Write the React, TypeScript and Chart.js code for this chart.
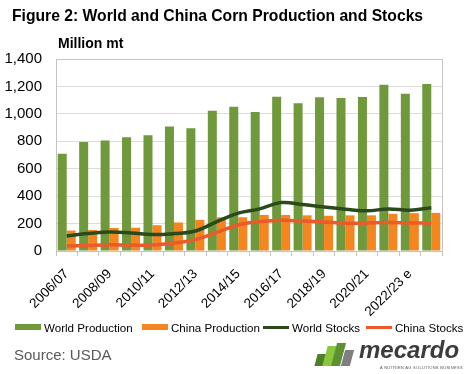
import React, { useEffect, useRef } from "react";
import { Chart, registerables } from "chart.js";

Chart.register(...registerables);

const categories = [
  "2006/07", "2007/08", "2008/09", "2009/10", "2010/11", "2011/12",
  "2012/13", "2013/14", "2014/15", "2015/16", "2016/17", "2017/18",
  "2018/19", "2019/20", "2020/21", "2021/22", "2022/23 e", "2023/24 f",
];
const worldProduction = [710, 795, 805, 829, 844, 907, 895, 1023, 1052, 1014, 1125, 1077, 1121, 1116, 1123, 1213, 1147, 1218];
const chinaProduction = [149, 154, 168, 170, 188, 208, 227, 246, 246, 263, 263, 260, 257, 260, 260, 271, 276, 278];
const worldStocks = [110, 127, 139, 132, 120, 127, 146, 214, 276, 307, 353, 339, 320, 305, 293, 307, 298, 315];
const chinaStocks = [37, 41, 45, 43, 43, 58, 83, 136, 190, 214, 224, 219, 212, 202, 204, 207, 204, 204];
const yTicks = [0, 200, 400, 600, 800, 1000, 1200, 1400];

const GREEN = "#70993b";
const ORANGE = "#f5851f";
const DARK = "#2b4a1c";
const RED = "#ea5a2b";
const FONT = "'Liberation Sans', Arial, sans-serif";

const frame = {
  id: "frame",
  afterDraw(chart: any) {
    const { ctx, chartArea } = chart;
    ctx.save();
    ctx.strokeStyle = "#c4c4c4";
    ctx.lineWidth = 1;
    ctx.strokeRect(
      Math.round(chartArea.left) + 0.5,
      Math.round(chartArea.top) + 0.5,
      Math.round(chartArea.right - chartArea.left),
      Math.round(chartArea.bottom - chartArea.top)
    );
    ctx.restore();
  },
};

function ChartCanvas() {
  const ref = useRef<HTMLCanvasElement | null>(null);
  useEffect(() => {
    if (!ref.current) return;
    const chart = new Chart(ref.current, {
      type: "bar",
      data: {
        labels: categories,
        datasets: [
          { type: "line", label: "China Stocks", data: chinaStocks, borderColor: RED, backgroundColor: RED, borderWidth: 3.5, pointRadius: 0, tension: 0.4, order: 0 },
          { type: "line", label: "World Stocks", data: worldStocks, borderColor: DARK, backgroundColor: DARK, borderWidth: 3.5, pointRadius: 0, tension: 0.4, order: 1 },
          { type: "bar", label: "World Production", data: worldProduction, backgroundColor: GREEN, categoryPercentage: 0.84, barPercentage: 1, order: 2 },
          { type: "bar", label: "China Production", data: chinaProduction, backgroundColor: ORANGE, categoryPercentage: 0.84, barPercentage: 1, order: 3 },
        ] as any,
      },
      options: {
        responsive: false,
        animation: false,
        layout: { padding: { left: 0, top: 59, right: 32, bottom: 53 } },
        plugins: { legend: { display: false }, tooltip: { enabled: false }, title: { display: false } },
        scales: {
          x: {
            grid: { display: true, drawOnChartArea: false, drawTicks: true, tickLength: 5, color: "#c4c4c4", offset: true },
            border: { color: "#c4c4c4" },
            ticks: {
              autoSkip: false,
              minRotation: 45,
              maxRotation: 45,
              padding: 10,
              color: "#000",
              font: { family: FONT, size: 13.5 },
              callback: (_v: any, i: number) => (i % 2 === 0 ? categories[i] : ""),
            },
            afterFit: (s: any) => { s.height = 70; },
          },
          y: {
            min: 0,
            max: 1400,
            grid: { color: "#dcdcdc", drawTicks: false },
            border: { color: "#c4c4c4" },
            afterBuildTicks: (s: any) => { s.ticks = yTicks.map((v) => ({ value: v })); },
            ticks: {
              padding: 14,
              color: "#000",
              font: { family: FONT, size: 15 },
              callback: (v: any) => Number(v).toLocaleString("en-US"),
            },
            afterFit: (s: any) => { s.width = 56; },
          },
        },
      } as any,
      plugins: [frame],
    });
    return () => chart.destroy();
  }, []);
  return <canvas ref={ref} width={474} height={374} style={{ position: "absolute", left: 0, top: 0 }} />;
}

function LegendItem({ x, color, line, label }: { x: number; color: string; line: boolean; label: string }) {
  return (
    <div style={{ position: "absolute", left: x, top: 319, height: 16, display: "flex", alignItems: "center" }}>
      <div style={{ width: 26, height: line ? 3 : 6, background: color, marginRight: 3 }} />
      <span style={{ fontSize: 11.6, color: "#000", whiteSpace: "nowrap" }}>{label}</span>
    </div>
  );
}

function Logo() {
  const bars = [
    { l: 0, h: 12, c: "#4f7f2a" },
    { l: 9, h: 20, c: "#8cc63f" },
    { l: 18, h: 23, c: "#5e8f32" },
    { l: 27, h: 16, c: "#7f7f7f" },
  ];
  return (
    <div style={{ position: "absolute", left: 312, top: 340, width: 160, height: 34 }}>
      {bars.map((b, i) => (
        <div key={i} style={{ position: "absolute", left: b.l + 4, bottom: 8, width: 9, height: b.h, background: b.c, transform: "skewX(-15deg)" }} />
      ))}
      <div style={{ position: "absolute", left: 47, top: -3, fontSize: 24, fontWeight: 700, fontStyle: "italic", color: "#3c3c3c", whiteSpace: "nowrap", lineHeight: "26px" }}>mecardo</div>
      <div style={{ position: "absolute", left: 68, top: 25, fontSize: 4, color: "#555", whiteSpace: "nowrap", letterSpacing: 0.3 }}>A NUTRIEN AG SOLUTIONS BUSINESS</div>
    </div>
  );
}

export default function App() {
  return (
    <div style={{ position: "absolute", left: 0, top: 0, width: 474, height: 374, background: "#fff", fontFamily: FONT, overflow: "hidden" }}>
      <ChartCanvas />
      <div style={{ position: "absolute", left: 12, top: 7, fontSize: 15.7, fontWeight: 700, color: "#000", whiteSpace: "nowrap", lineHeight: "18px" }}>
        Figure 2: World and China Corn Production and Stocks
      </div>
      <div style={{ position: "absolute", left: 58, top: 35, fontSize: 14, fontWeight: 700, color: "#000", whiteSpace: "nowrap", lineHeight: "16px" }}>
        Million mt
      </div>
      <LegendItem x={15} color={GREEN} line={false} label="World Production" />
      <LegendItem x={142} color={ORANGE} line={false} label="China Production" />
      <LegendItem x={263} color={DARK} line={true} label="World Stocks" />
      <LegendItem x={366} color={RED} line={true} label="China Stocks" />
      <div style={{ position: "absolute", left: 14, top: 346, fontSize: 15, color: "#595959", whiteSpace: "nowrap", lineHeight: "17px" }}>
        Source: USDA
      </div>
      <Logo />
    </div>
  );
}
